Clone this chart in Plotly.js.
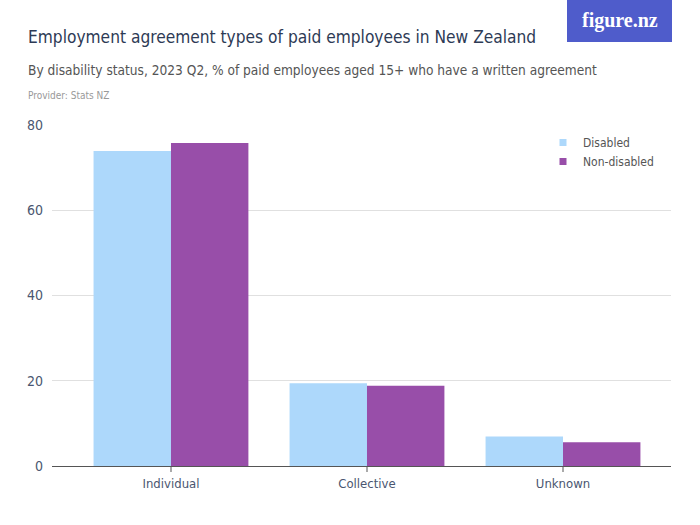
<!DOCTYPE html>
<html>
<head>
<meta charset="utf-8">
<script src="https://cdn.plot.ly/plotly-3.0.1.min.js"></script>
<style>body{margin:0;padding:0;background:#fff;}#chart{width:700px;height:525px;}</style>
</head>
<body>
<div id="chart"></div>
<script>
const categories = ["Individual", "Collective", "Unknown"];
const disabled = [73.9, 19.4, 6.9];
const nonDisabled = [75.8, 18.8, 5.6];
const seriesNames = ["Disabled", "Non-disabled"];
const seriesColors = ["#add8fb", "#984ea9"];
const yTicks = [0, 20, 40, 60, 80];

const FONT = "'DejaVu Sans Condensed', 'Roboto', sans-serif";

const traces = [
  {type: "bar", name: seriesNames[0], x: categories, y: disabled, marker: {color: seriesColors[0]}, hoverinfo: "none", showlegend: false},
  {type: "bar", name: seriesNames[1], x: categories, y: nonDisabled, marker: {color: seriesColors[1]}, hoverinfo: "none", showlegend: false},
  {type: "scatter", mode: "markers", name: seriesNames[0], x: [null], y: [null], marker: {symbol: "square", size: 7, color: seriesColors[0]}},
  {type: "scatter", mode: "markers", name: seriesNames[1], x: [null], y: [null], marker: {symbol: "square", size: 7, color: seriesColors[1]}}
];

const PL = 52, PR = 671, PT = 125, PB = 466;
const PW = PR - PL, PH = PB - PT;
const px = v => (v - PL) / PW;
const py = v => (PB - v) / PH;

const layout = {
  width: 700, height: 525,
  margin: {l: PL, r: 700 - PR, t: PT, b: 525 - PB},
  paper_bgcolor: "#fff", plot_bgcolor: "#fff",
  font: {family: FONT, color: "#4a5670", size: 13},
  barmode: "group",
  bargap: 0.21,
  bargroupgap: 0,
  showlegend: true,
  legend: {x: px(543), y: py(128), xanchor: "left", yanchor: "top", bgcolor: "rgba(0,0,0,0)",
           font: {family: FONT, size: 12, color: "#555"}, itemwidth: 30, tracegroupgap: 0},
  xaxis: {
    type: "category", range: [-0.607, 2.551],
    showgrid: false, showline: true, linecolor: "#555", linewidth: 1,
    ticks: "outside", ticklen: 5, tickcolor: "#aaa", tickwidth: 2,
    tickfont: {family: FONT, size: 13, color: "#4a5670"}, fixedrange: true
  },
  yaxis: {
    range: [0, 80], tickvals: yTicks, ticktext: yTicks.map(String),
    showgrid: true, gridcolor: "#e0e0e0", gridwidth: 1, zeroline: false,
    showline: false, ticks: "", ticklabelstandoff: 8,
    tickfont: {family: FONT, size: 14, color: "#4a5670"}, fixedrange: true
  },
  shapes: [
    {type: "rect", xref: "paper", yref: "paper", x0: px(567), x1: px(672), y0: py(42), y1: py(0),
     fillcolor: "#4f5ccb", line: {width: 0}, layer: "above"}
  ],
  annotations: [
    {xref: "paper", yref: "paper", x: px(26), y: py(37), xanchor: "left", yanchor: "middle",
     text: "Employment agreement types of paid employees in New Zealand", showarrow: false,
     font: {family: FONT, size: 17.2, color: "#2d3a55"}},
    {xref: "paper", yref: "paper", x: px(26), y: py(70), xanchor: "left", yanchor: "middle",
     text: "By disability status, 2023 Q2, % of paid employees aged 15+ who have a written agreement", showarrow: false,
     font: {family: FONT, size: 13.6, color: "#555"}},
    {xref: "paper", yref: "paper", x: px(26), y: py(95), xanchor: "left", yanchor: "middle",
     text: "Provider: Stats NZ", showarrow: false,
     font: {family: FONT, size: 10, color: "#999"}},
    {xref: "paper", yref: "paper", x: px(619.5), y: py(20), xanchor: "center", yanchor: "middle",
     text: "<b>figure.nz</b>", showarrow: false,
     font: {family: "'Liberation Serif', 'DejaVu Serif', serif", size: 20, color: "#fff"}}
  ]
};

Plotly.newPlot("chart", traces, layout, {displayModeBar: false, staticPlot: true});
</script>
</body>
</html>
